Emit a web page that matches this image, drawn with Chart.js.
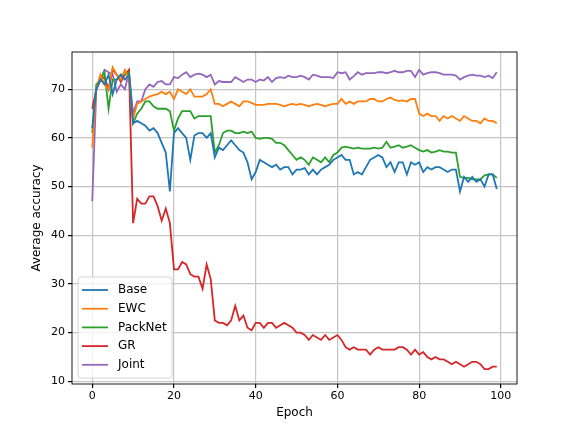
<!DOCTYPE html>
<html>
<head>
<meta charset="utf-8">
<script src="https://cdn.jsdelivr.net/npm/chart.js@4/dist/chart.umd.min.js"></script>
<style>body{margin:0;background:#fff}</style>
</head>
<body>
<canvas id="myChart" width="574" height="431"></canvas>
<script>
const epochs = Array.from({length: 100}, (_, i) => i);
const xTicks = [0, 20, 40, 60, 80, 100];
const yTicks = [10, 20, 30, 40, 50, 60, 70];

const base = [62,70,72,71,73,69,72,73,72,73, 63,63.5,63,62.5,61.5,62,61,59,57,49,
  61,62,61,60,55.5,60.5,61,61,60,61, 56,58,57.5,58.5,59.5,58.5,57.5,57,55,51.5,
  53,55.5,55,54.5,54,54.5,53.5,54,54,52.5, 53.5,53.5,53.8,52.5,53.5,52.5,53.5,54,54.5,55.5,
  56,56.5,55.5,55.5,52.5,53,52.5,54,55.5,56, 56.5,56,54,55,53,55,55,52.5,55,54.5,
  55,53,54,53.5,54,54,53.5,53,53.5,53.5, 49,52,51,52,51,51.5,50,52.5,52.5,49.5];
const ewc = [58,70,73,71,70,74.5,73,72,74,72, 64,67,67.5,68,68.5,68.8,69,69.5,69,69.5,
  68,70,69.5,69,70,68.5,68.5,68.5,69,70, 67,67,66.5,67,67.5,67,66.5,67.5,67.5,67.2,
  66.8,66.8,66.8,67,67,67,66.8,66.5,66.8,67, 66.8,67,66.8,66.5,66.8,67,66.8,66.5,66.8,67,
  67,68,67,67.5,67,67.5,67.5,67.5,68,68, 67.5,67.5,68,68.3,67.8,67.6,67.7,67.5,68,68,
  65,64.5,65,64.5,64.5,63.5,64.5,64,64.5,64, 63.5,64.5,64,63.5,63.5,63,64,63.5,63.5,63];
const packnet = [61,71,72,73.5,66,72,72,73,73,73.5, 63,65,66,67.5,67.5,66.5,66,66,66,65.5,
  61.5,64,65.5,65.5,65.5,64,64.5,64.5,64.5,64.5, 57,58.5,61,61.5,61.5,61,61,61.3,61,61.3,
  60,59.8,60,60,59.8,59,59,58.5,57.5,56.5, 55.5,56,55.5,54.5,56,55.5,55,56,55,56.5,
  57,58,58.2,58,57.8,58,57.8,57.8,57.8,58, 57.8,58,59.2,58,58.2,58.5,58,58.2,58.5,58,
  57.5,57.2,57.5,57,57.2,57.5,57.2,57.2,57,57, 52,51.8,51.8,51.5,51.5,51.5,52.3,52.5,52.5,51.8];
const gr = [66,70,72,72.5,70,74,73,71.5,73,74, 42.5,47.5,46.5,46.5,48,48,46,43,45.5,42.5,
  33,33,34.5,34,32,31.5,31.5,29,34,31, 22.5,22,22,21.5,22.5,25.5,22.5,23.5,21,20.5,
  22,22,21,22,22,21,21.5,22,21.5,21, 20,20,19.5,18.5,19.5,19,18.5,19.5,18.5,19,
  19.5,18.5,17,16.5,17,16.5,16.5,16.5,15.5,16.5, 17,16.5,16.5,16.5,16.5,17,17,16.5,15.5,16.5,
  15.5,16,15,14.5,15,14.5,14.5,14,13.5,14, 13.5,13,13.5,14,14,13.5,12.5,12.5,13,13];
const joint = [47,70,72,74,73.5,73,69.5,71,70,73.5, 65,67.5,67.5,70,71,70.5,71.5,71.7,71,71,
  72.5,72.3,73,73.5,72.5,73,73.2,73,72.5,73, 71,71.7,71.5,71.5,71.5,72.5,72,71.5,72,72,
  71.5,72,71.8,72.5,71.5,72.3,72.5,72.3,72.8,72.5, 72.5,72.8,72.5,72,73,72.8,72.5,72.5,72.5,72.3,
  73.5,73.3,73.5,72,72.7,73.5,73,73.3,73.3,73.3, 73.5,73.5,73.3,73.5,73.8,73.5,73.5,73.8,73.8,72.5,
  74,73,73.3,73.5,73.5,73.3,73,73,73,72.8, 72,72.5,72.8,73,72.8,72.8,72.5,72.8,72.3,73.5];

const series = [
  {label: 'Base', data: base, color: '#1f77b4'},
  {label: 'EWC', data: ewc, color: '#ff7f0e'},
  {label: 'PackNet', data: packnet, color: '#2ca02c'},
  {label: 'GR', data: gr, color: '#d62728'},
  {label: 'Joint', data: joint, color: '#9467bd'},
];

const font = {family: 'DejaVu Sans', size: 11};

// frame around the plot + legend box in lower-left corner
const framePlugin = {
  id: 'frame',
  afterDraw(chart) {
    const {ctx, chartArea: a} = chart;
    ctx.save();
    ctx.strokeStyle = '#000';
    ctx.lineWidth = 0.9;
    ctx.strokeRect(a.left, a.top, a.right - a.left, a.bottom - a.top);

    const x0 = a.left + 6, y0 = a.bottom - 107, w = 94, h = 101;
    ctx.fillStyle = 'rgba(255,255,255,0.8)';
    ctx.strokeStyle = '#d0d0d0';
    ctx.beginPath();
    ctx.roundRect(x0, y0, w, h, 3);
    ctx.fill();
    ctx.stroke();
    ctx.font = '12px "DejaVu Sans"';
    ctx.textBaseline = 'middle';
    chart.data.datasets.forEach((ds, i) => {
      const y = y0 + 13 + i * 18.7;
      ctx.strokeStyle = ds.borderColor;
      ctx.lineWidth = 1.8;
      ctx.beginPath();
      ctx.moveTo(x0 + 4, y);
      ctx.lineTo(x0 + 30, y);
      ctx.stroke();
      ctx.fillStyle = '#000';
      ctx.fillText(ds.label, x0 + 40, y);
    });
    ctx.restore();
  }
};

new Chart(document.getElementById('myChart'), {
  type: 'line',
  data: {
    datasets: series.map(s => ({
      label: s.label,
      data: s.data.map((v, i) => ({x: epochs[i], y: v})),
      borderColor: s.color,
      borderWidth: 1.8,
      pointRadius: 0,
      tension: 0,
    }))
  },
  options: {
    responsive: false,
    animation: false,
    layout: {padding: {top: 52, right: 57, left: 26, bottom: 7}},
    plugins: {legend: {display: false}, tooltip: {enabled: false}},
    scales: {
      x: {
        type: 'linear', min: -4.95, max: 103.95,
        afterBuildTicks: s => { s.ticks = xTicks.map(v => ({value: v})); },
        afterFit: s => { s.height = 40; },
        ticks: {color: '#000', font, padding: 2, maxRotation: 0},
        grid: {color: '#c4c4c4', lineWidth: 1.2, tickColor: '#000', tickLength: 4},
        border: {display: false},
        title: {display: true, text: 'Epoch', color: '#000', font: {family: 'DejaVu Sans', size: 12}, padding: {top: 2}}
      },
      y: {
        min: 9.44, max: 77.66,
        afterBuildTicks: s => { s.ticks = yTicks.map(v => ({value: v})); },
        afterFit: s => { s.width = 46; },
        ticks: {color: '#000', font, padding: 3},
        grid: {color: '#c4c4c4', lineWidth: 1.2, tickColor: '#000', tickLength: 4},
        border: {display: false},
        title: {display: true, text: 'Average accuracy', color: '#000', font: {family: 'DejaVu Sans', size: 12}}
      }
    }
  },
  plugins: [framePlugin]
});
</script>
</body>
</html>
